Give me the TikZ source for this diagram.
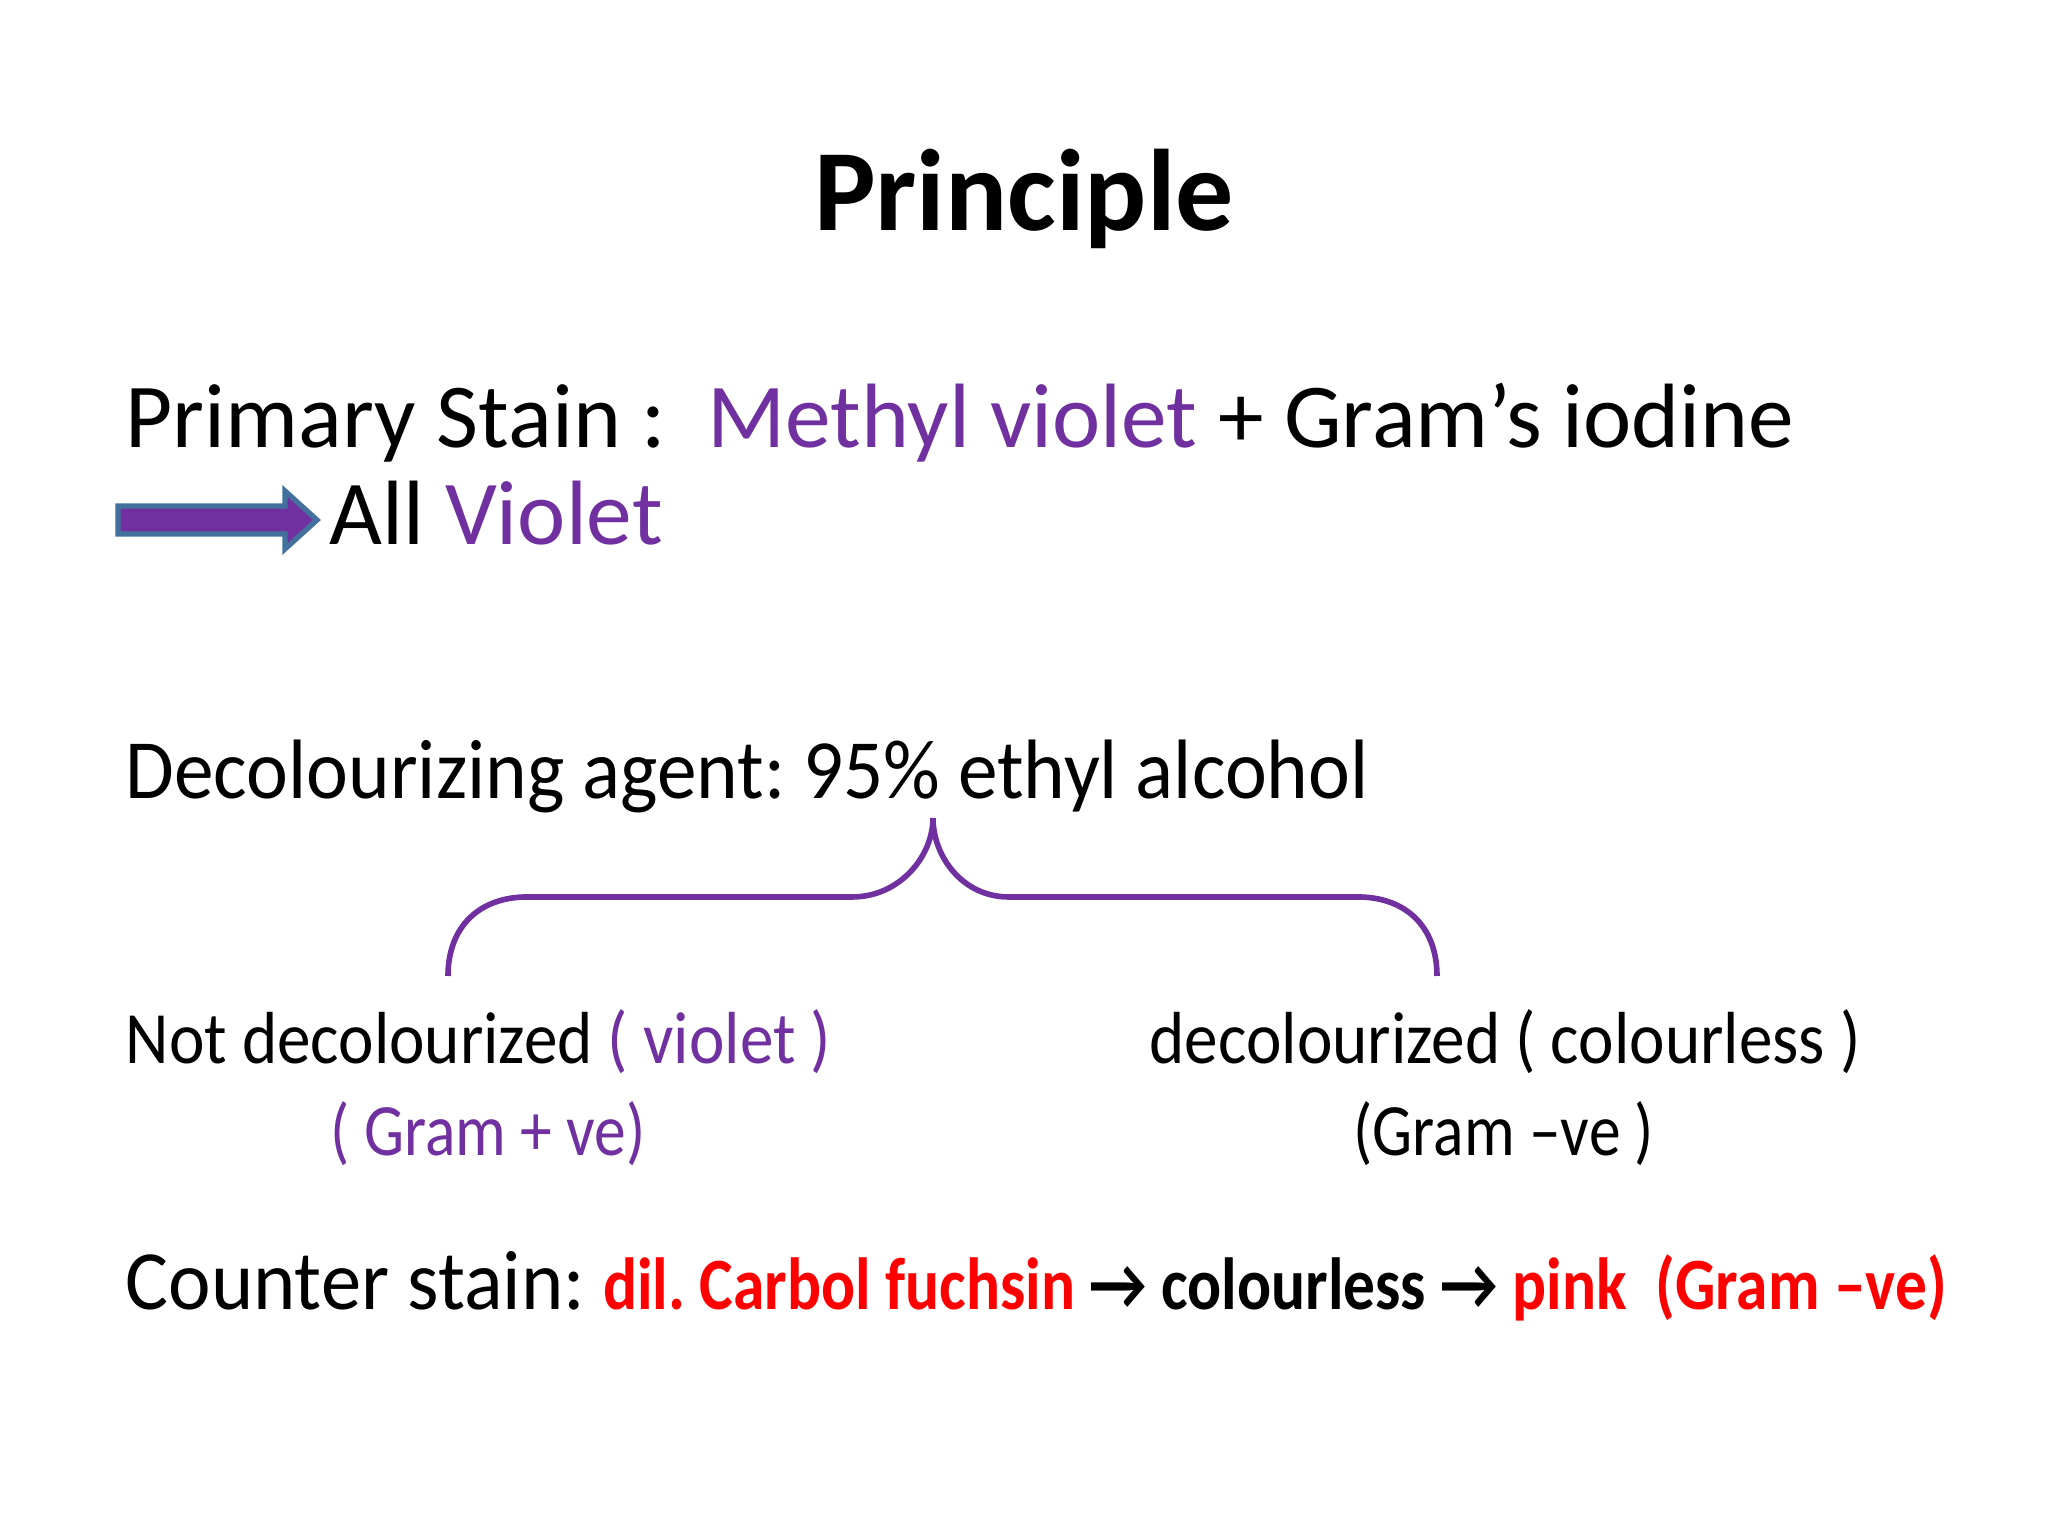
\documentclass[tikz,border=0pt]{standalone}
\usepackage{fontspec}
\setmainfont{Carlito}
\newfontfamily\slightfont{Carlito}[FakeStretch=0.955]
\newfontfamily\decolfont{Carlito}[FakeStretch=0.94]
\newfontfamily\narrowfont{Carlito}[FakeStretch=0.91]
\newfontfamily\narrowerfont{Carlito}[FakeStretch=0.86]
\usetikzlibrary{positioning}
\definecolor{violetc}{HTML}{7030A0}
\definecolor{redc}{HTML}{FF0000}
\definecolor{arrowedge}{HTML}{41719C}
\tikzset{
  slidetext/.style={anchor=base west,inner sep=0pt,text=black},
  bracepath/.style={draw=violetc,line width=1.6pt}
}
\frenchspacing

\begin{document}
\begin{tikzpicture}
\useasboundingbox[fill=white] (0,0) rectangle (20.48,15.36);
\node[anchor=base,inner sep=0pt,font=\fontsize{33}{38}\selectfont\bfseries] (title) at (10.24,13.05) {Principle};

\node[slidetext,font=\fontsize{26}{30}\selectfont] (primary) at (1.25,10.88) {Primary Stain :\ \ \textcolor{violetc}{Methyl violet} + Gram’s iodine};
\node[slidetext,font=\fontsize{26}{30}\selectfont] (allviolet) at (3.29,9.91) {All \textcolor{violetc}{Violet}};
\draw[fill=violetc,draw=arrowedge,line width=1.5pt] (1.18,10.02) -- (2.85,10.02) -- (2.85,9.87) -- (3.17,10.16) -- (2.85,10.45) -- (2.85,10.30) -- (1.18,10.30) -- cycle;

\node[slidetext,font=\fontsize{24}{28}\selectfont\decolfont] (decol) at (1.25,7.37) {Decolourizing agent: 95\% ethyl alcohol};

% brace
\coordinate (tip) at (9.33,7.18);
\coordinate (leftend) at (4.48,5.60);
\coordinate (rightend) at (14.37,5.60);
\draw[bracepath] (leftend) .. controls (4.48,6.10) and (4.80,6.39) .. (5.27,6.39) -- (8.52,6.39)
  .. controls (9.00,6.39) and (9.33,6.80) .. (tip)
  .. controls (9.33,6.80) and (9.62,6.39) .. (10.09,6.39) -- (13.58,6.39)
  .. controls (14.05,6.39) and (14.37,6.10) .. (rightend);

\node[slidetext,font=\fontsize{21}{25}\selectfont\narrowfont] (notdecol) at (1.25,4.72) {Not decolourized \textcolor{violetc}{( violet )}};
\node[slidetext,font=\fontsize{21}{25}\selectfont\narrowerfont,text=violetc] (grampos) at (3.30,3.80) {( Gram + ve)};
\node[slidetext,font=\fontsize{21}{25}\selectfont\narrowfont] (decolright) at (11.49,4.72) {decolourized ( colourless )};
\node[slidetext,font=\fontsize{21}{25}\selectfont\narrowerfont] (gramneg) at (13.53,3.80) {(Gram –ve )};

\node[slidetext,font=\fontsize{24}{28}\selectfont\slightfont] (counter) at (1.25,2.26) {Counter stain: {\fontsize{21}{25}\selectfont\narrowerfont\bfseries\textcolor{redc}{dil. Carbol fuchsin} → colourless → \textcolor{redc}{pink\ \ (Gram –ve)}}};
\end{tikzpicture}
\end{document}
